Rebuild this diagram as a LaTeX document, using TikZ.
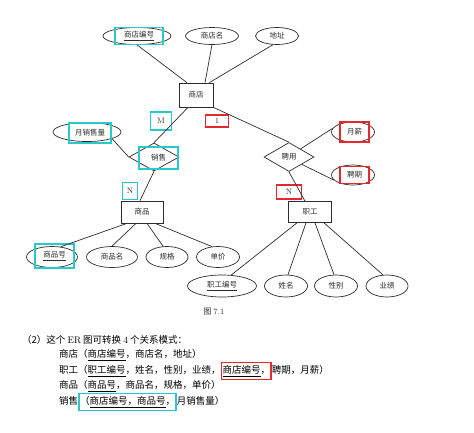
\documentclass[tikz,border=0pt]{standalone}
\usepackage{fontspec}
\newfontfamily\cjk{Noto Sans CJK SC}
\usetikzlibrary{shapes.geometric,positioning}
\definecolor{hlcyan}{RGB}{40,200,205}
\definecolor{hlred}{RGB}{228,40,45}
\definecolor{ink}{RGB}{45,45,45}

\begin{document}
\begin{tikzpicture}[x=1pt,y=-1pt,
    every node/.style={font=\cjk\fontsize{7.5}{9}\selectfont, inner sep=0pt, text=ink},
    entity/.style={draw=ink, line width=0.7pt, rectangle, minimum height=22},
    attrib/.style={draw=ink, line width=0.7pt, ellipse, minimum height=19},
    rel/.style={draw=ink, line width=0.7pt, diamond, aspect=1.8, minimum height=28, minimum width=50},
    cyanbox/.style={draw=hlcyan, line width=1.3pt},
    redbox/.style={draw=hlred, line width=1.3pt},
    link/.style={draw=ink, line width=0.7pt},
    row/.style={font=\cjk\fontsize{9.5}{11}\selectfont, text=black}]
  \fill[white] (0,0) rectangle (474,432);
  \useasboundingbox (0,0) rectangle (474,432);

  % store and its attributes
  \node[entity, minimum width=34, minimum height=24] (shop) at (196,95) {商店};
  \node[attrib, minimum width=68, minimum height=17] (shopid) at (137,36) {};
  \node[cyanbox, minimum width=48, minimum height=17] (shopidtxt) at (139,36) {\underline{商店编号}};
  \node[attrib, minimum width=53, minimum height=17] (shopname) at (212,36) {商店名};
  \node[attrib, minimum width=43, minimum height=17] (addr) at (277,36) {地址};
  \draw[link] (shopid.south) -- ([xshift=-9pt]shop.north);
  \draw[link] (shopname.south) -- ([xshift=9pt]shop.north);
  \draw[link] (addr.245) -- ([xshift=-4pt]shop.north east);

  % sale relation
  \node[rel] (sale) at (154,157) {};
  \node[cyanbox, minimum width=39, minimum height=22] (saletxt) at (158.5,158) {销售};
  \node[attrib, minimum width=68] (monthsale) at (87,132) {};
  \node[cyanbox, minimum width=42, minimum height=20] (monthsaletxt) at (90,133) {月销售量};
  \node[cyanbox, minimum width=21, minimum height=18, font=\rmfamily\fontsize{8}{9}\selectfont] (mlabel) at (161,121) {M};
  \node[cyanbox, minimum width=15, minimum height=17, font=\rmfamily\fontsize{8}{9}\selectfont] (nlabel) at (130,191) {N};
  \draw[link] ([xshift=-8pt]shop.south) -- (sale.north);
  \draw[link] (monthsale.345) -- (sale.west);

  % goods and its attributes
  \node[entity, minimum width=42] (goods) at (142,212) {商品};
  \draw[link] (sale.south) -- ([xshift=-2pt]goods.north);
  \node[attrib, minimum width=51, minimum height=21] (goodsid) at (52,257) {};
  \node[cyanbox, minimum width=39, minimum height=24] (goodsidtxt) at (54.5,256) {\underline{商品号}};
  \node[attrib, minimum width=51, minimum height=21] (goodsname) at (112,257) {商品名};
  \node[attrib, minimum width=42, minimum height=21] (spec) at (167,257) {规格};
  \node[attrib, minimum width=43, minimum height=21] (price) at (218,257) {单价};
  \draw[link] ([xshift=-15pt]goods.south) -- (goodsid.50);
  \draw[link] ([xshift=-6pt]goods.south) -- (goodsname.north);
  \draw[link] ([xshift=5pt]goods.south) -- (spec.110);
  \draw[link] ([xshift=13pt]goods.south) -- (price.120);

  % hire relation
  \node[rel, minimum height=29] (hire) at (289,157) {聘用};
  \node[redbox, minimum width=23, minimum height=12, font=\rmfamily\fontsize{8}{9}\selectfont] (onelabel) at (217,121) {1};
  \node[attrib, minimum width=43, minimum height=20] (salary) at (353,132) {};
  \node[redbox, minimum width=29, minimum height=20] (salarytxt) at (354.5,132) {月薪};
  \node[attrib, minimum width=43, minimum height=20] (term) at (353,175) {};
  \node[redbox, minimum width=29, minimum height=17] (termtxt) at (354.5,175) {聘期};
  \node[redbox, minimum width=25, minimum height=14, font=\rmfamily\fontsize{8}{9}\selectfont] (nlabelb) at (289,192) {N};
  \draw[link] (shop.south east) -- (hire.north);
  \draw[link] (hire.35) -- (salary.170);
  \draw[link] (hire.-30) -- (term.195);

  % staff and its attributes
  \node[entity, minimum width=43, minimum height=21] (staff) at (310,212) {职工};
  \draw[link] (hire.south) -- ([xshift=-5pt]staff.north);
  \node[attrib, minimum width=69, minimum height=22] (staffid) at (222,286) {\underline{职工编号}};
  \node[attrib, minimum width=43, minimum height=22] (sname) at (286,286) {姓名};
  \node[attrib, minimum width=43, minimum height=22] (sex) at (336,286) {性别};
  \node[attrib, minimum width=42, minimum height=22] (perf) at (387,286) {业绩};
  \draw[link] ([xshift=-13pt]staff.south) -- (staffid.50);
  \draw[link] ([xshift=-4pt]staff.south) -- (sname.80);
  \draw[link] ([xshift=5pt]staff.south) -- (sex.100);
  \draw[link] ([xshift=14pt]staff.south) -- (perf.110);

  % caption and schemas
  \node[font=\cjk\fontsize{8}{9}\selectfont] (cap) at (214,312) {图 {\rmfamily 7.1}};
  \node[row, anchor=west] (head) at (22,340) {（2）这个 {\rmfamily ER} 图可转换 {\rmfamily 4} 个关系模式：};
  \node[row, anchor=west] (rowa) at (59,355) {商店（\underline{商店编号}，商店名，地址）};
  \node[row, anchor=west] (rowb) at (59,371) {职工（\underline{职工编号}，姓名，性别，业绩，};
  \node[row, redbox, anchor=base west, inner xsep=1pt, inner ysep=3pt] (rowbkey) at (rowb.base east) {\underline{商店编号}，};
  \node[row, anchor=base west] (rowbend) at (rowbkey.base east) {聘期，月薪）};
  \node[row, anchor=west] (rowc) at (59,386) {商品（\underline{商品号}，商品名，规格，单价）};
  \node[row, anchor=west] (rowd) at (59,401) {销售};
  \node[row, cyanbox, anchor=base west, inner xsep=1pt, inner ysep=3pt] (rowdkey) at (rowd.base east) {（\underline{商店编号，商品号}，};
  \node[row, anchor=base west] (rowdend) at (rowdkey.base east) {月销售量）};
\end{tikzpicture}
\end{document}
